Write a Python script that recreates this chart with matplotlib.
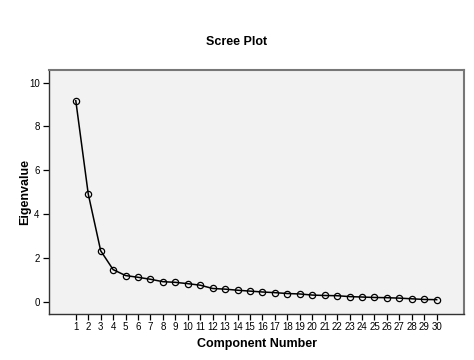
import matplotlib.pyplot as plt
import numpy as np

plt.rcParams['font.family'] = ['Liberation Sans', 'DejaVu Sans']

components = list(range(1, 31))
eigenvalues = [9.17, 4.92, 2.33, 1.47, 1.20, 1.12, 1.03, 0.92, 0.89, 0.83,
               0.76, 0.61, 0.58, 0.53, 0.49, 0.45, 0.42, 0.38, 0.36, 0.31,
               0.29, 0.28, 0.24, 0.22, 0.20, 0.19, 0.17, 0.14, 0.11, 0.10]
y_ticks = [0, 2, 4, 6, 8, 10]

fig = plt.figure(figsize=(4.74, 3.6), dpi=100)
ax = fig.add_axes([0.104, 0.128, 0.875, 0.678])
ax.set_facecolor('#f2f2f2')

ax.plot(components, eigenvalues, color='black', linewidth=1.1,
        marker='o', markersize=4.5, markerfacecolor='none',
        markeredgecolor='black', markeredgewidth=0.9)

ax.set_xlim(-1.13, 32.2)
ax.set_ylim(-0.55, 10.58)
ax.set_xticks(components)
ax.set_yticks(y_ticks)
ax.tick_params(labelsize=7, length=4, width=0.9, direction='out', pad=2)
ax.tick_params(axis='y', pad=3)

for side in ['top', 'right']:
    ax.spines[side].set_color('#777777')
    ax.spines[side].set_linewidth(1.5)
for side in ['left', 'bottom']:
    ax.spines[side].set_color('#333333')
    ax.spines[side].set_linewidth(1.0)

ax.set_xlabel('Component Number', fontsize=9, fontweight='bold', labelpad=4)
ax.set_ylabel('Eigenvalue', fontsize=9, fontweight='bold')
ax.yaxis.set_label_coords(-0.045, 0.5)
fig.text(0.5, 0.883, 'Scree Plot', ha='center', va='center',
         fontsize=9, fontweight='bold')

fig.savefig('out.png', dpi=100)
